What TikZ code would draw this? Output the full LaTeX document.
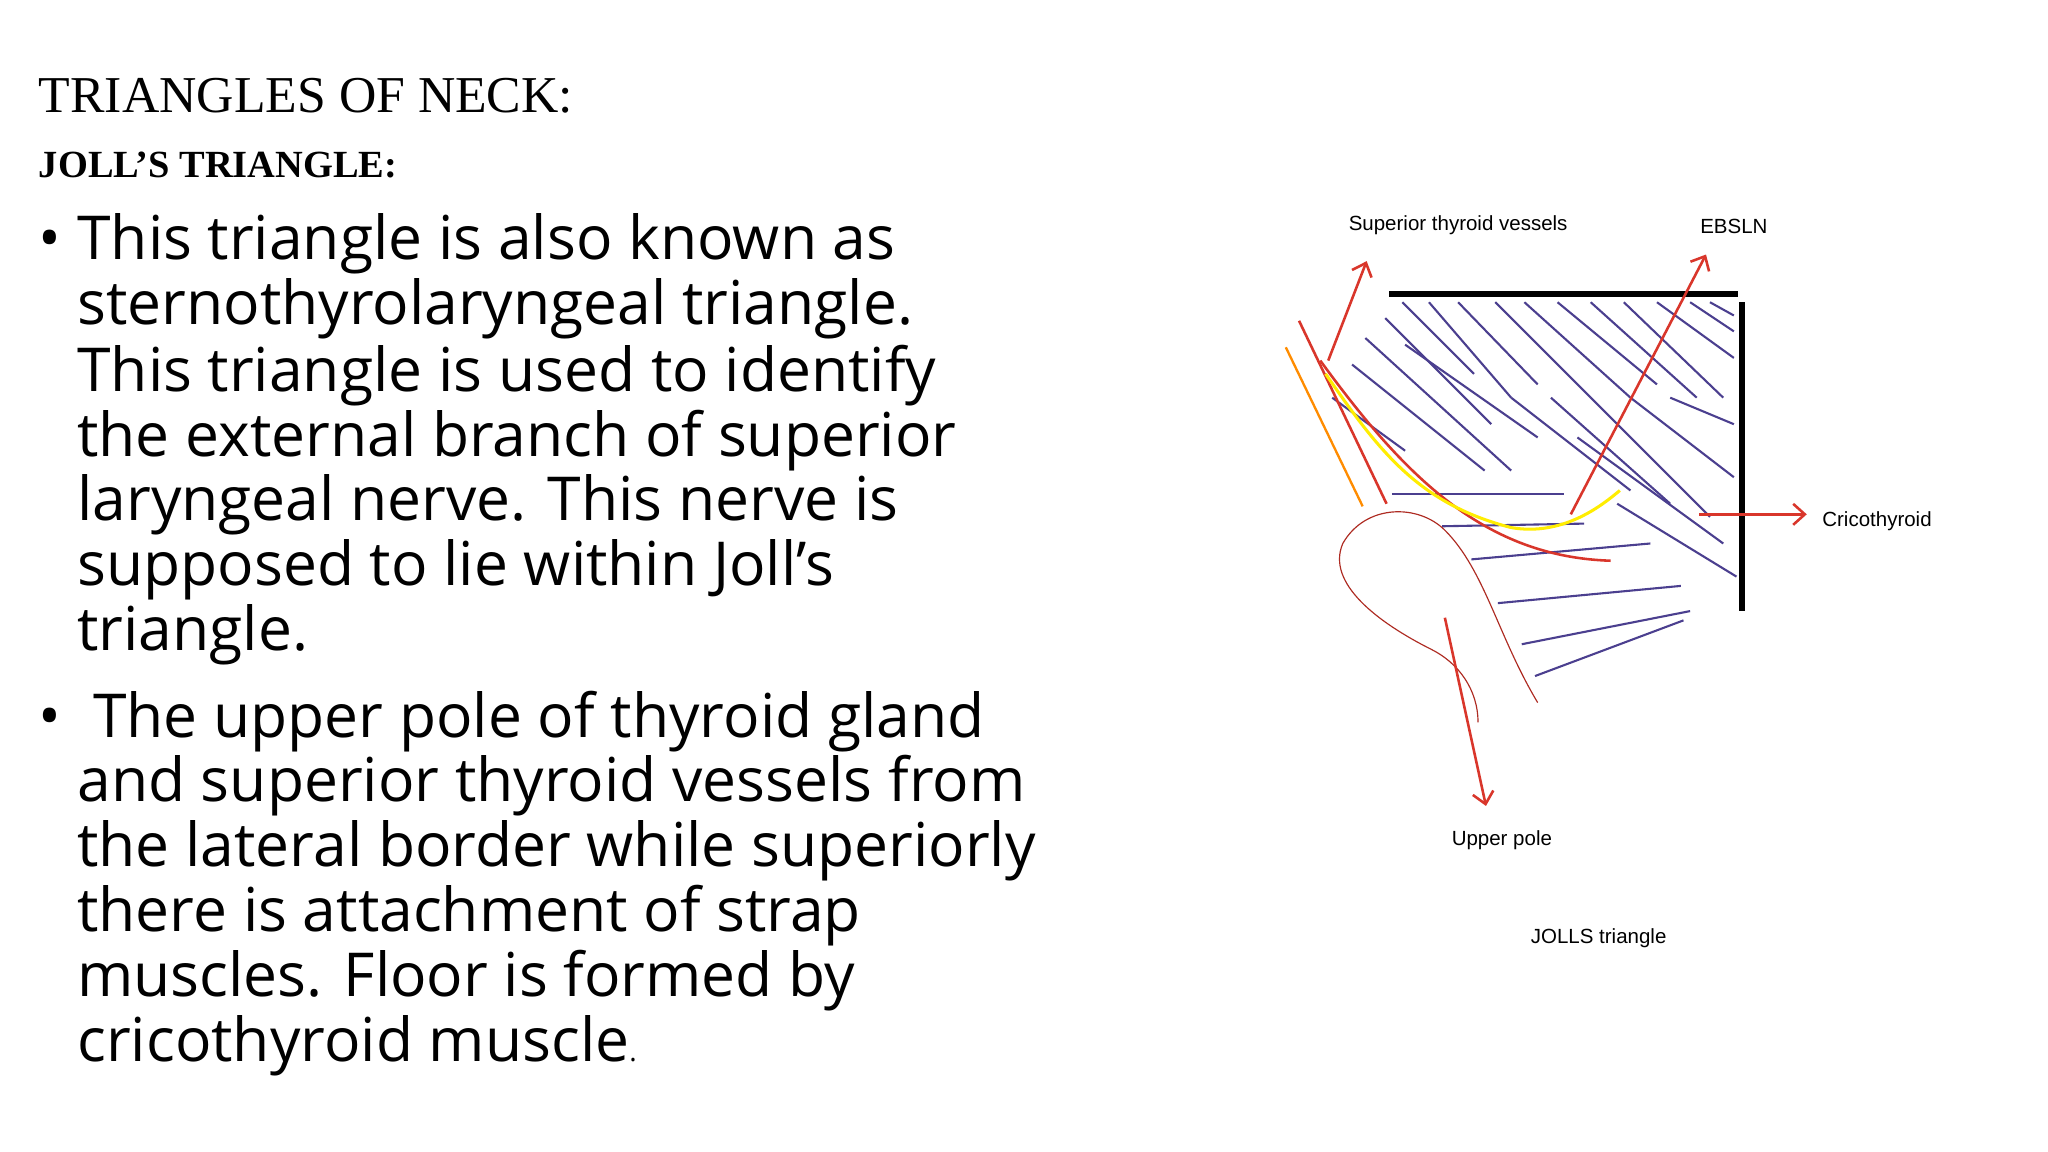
\documentclass[tikz,border=0pt]{standalone}
\usepackage{fontspec}
\setmainfont{Liberation Serif}
\newfontfamily\bodyf{Open Sans}
\newfontfamily\labf{Liberation Sans}
\usetikzlibrary{arrows.meta}
\definecolor{hatch}{HTML}{4B3F8F}
\definecolor{rd}{HTML}{D9362B}
\tikzset{
 body/.style={anchor=base west,inner sep=0,font=\bodyf\fontsize{26}{30}\selectfont},
 lab/.style={inner sep=0,font=\labf\fontsize{8.8}{10}\selectfont},
 hl/.style={hatch,line width=0.9pt},
 arr/.style={rd,line width=1.1pt,-{Straight Barb[length=5pt,width=9pt]}},
}
\begin{document}
\begin{tikzpicture}[x=0.02cm,y=-0.02cm]
\useasboundingbox[fill=white] (0,0) rectangle (1545,869);
\node[anchor=base west,inner sep=0,font=\fontsize{22.2}{26}\selectfont] (t1) at (29,85) {TRIANGLES OF NECK:};
\node[anchor=base west,inner sep=0,font=\bfseries\fontsize{16.5}{20}\selectfont] (t2) at (29,134) {JOLL’S TRIANGLE:};
\node[body] (b1) at (29,196) {•};
\node[body] (l1) at (58,196) {This triangle is also known as};
\node[body] (l2) at (58,245) {sternothyrolaryngeal triangle.};
\node[body] (l3) at (58,295) {This triangle is used to identify};
\node[body] (l4) at (58,344) {the external branch of superior};
\node[body] (l5) at (58,393) {laryngeal nerve. This nerve is};
\node[body] (l6) at (58,442) {supposed to lie within Joll’s};
\node[body] (l7) at (58,491) {triangle.};
\node[body] (b2) at (29,556) {•};
\node[body] (m1) at (58,556) {\ The upper pole of thyroid gland};
\node[body] (m2) at (58,605) {and superior thyroid vessels from};
\node[body] (m3) at (58,654) {the lateral border while superiorly};
\node[body] (m4) at (58,703) {there is attachment of strap};
\node[body] (m5) at (58,752) {muscles. Floor is formed by};
\node[body] (m6) at (58,801) {cricothyroid muscle{\fontsize{12}{14}\selectfont.}};
% hatch lines
\foreach \a/\b/\c/\d in {
1058/228/1112/282, 1078/228/1140/300, 1100/228/1160/290, 1128/228/1200/300,
1150/228/1230/300, 1175/228/1250/290, 1200/228/1280/300, 1225/228/1300/300,
1250/228/1308/270, 1275/228/1308/250, 1290/228/1308/238,
1045/240/1125/320, 1030/255/1140/355, 1020/275/1120/355, 1005/300/1060/340,
1060/260/1160/330, 1140/300/1230/370, 1170/300/1260/380, 1200/300/1290/390,
1230/300/1308/360, 1260/300/1308/320,
1190/330/1300/410, 1220/380/1310/435,
1050/373/1180/373, 1088/397/1195/395, 1110/422/1245/410,
1130/455/1268/442, 1148/486/1275/461, 1158/510/1270/468}
  \draw[hl] (\a,\b) -- (\c,\d);
% black border
\draw[line width=2.6pt] (1048,222) -- (1311,222);
\draw[line width=2.6pt] (1314,228) -- (1314,461);
% orange line
\draw[orange!90!yellow,line width=1pt] (970,262) -- (1028,382);
% red muscle lines
\draw[rd,line width=1.1pt] (980,242) -- (1046,380);
\draw[rd,line width=1.1pt] (996,272) .. controls (1060,360) and (1120,420) .. (1215,423);
% yellow nerve
\draw[yellow!95!orange,line width=1.3pt] (1000,282) .. controls (1040,340) and (1070,380) .. (1140,398) .. controls (1180,405) and (1210,380) .. (1222,370);
% thyroid upper pole
\draw[rd!80!black,line width=0.5pt] (1160,530) .. controls (1130,480) and (1120,430) .. (1090,400) .. controls (1070,380) and (1030,380) .. (1013,410) .. controls (1000,440) and (1040,470) .. (1080,490) .. controls (1100,500) and (1115,520) .. (1115,545);
% arrows
\coordinate (a1s) at (1002,272); \coordinate (a1e) at (1031,197);
\draw[arr] (a1s) -- (a1e);
\coordinate (a2s) at (1185,388); \coordinate (a2e) at (1287,192);
\draw[arr] (a2s) -- (a2e);
\coordinate (a3s) at (1282,388); \coordinate (a3e) at (1363,388);
\draw[arr] (a3s) -- (a3e);
\coordinate (a4s) at (1090,466); \coordinate (a4e) at (1121,608);
\draw[arr] (a4s) -- (a4e);
% labels
\node[lab] (s) at (1100,170) {Superior thyroid vessels};
\node[lab] (e) at (1308,171) {EBSLN};
\node[lab] (c) at (1416,393) {Cricothyroid};
\node[lab] (u) at (1133,634) {Upper pole};
\node[lab] (j) at (1206,708) {JOLLS triangle};
\end{tikzpicture}
\end{document}
